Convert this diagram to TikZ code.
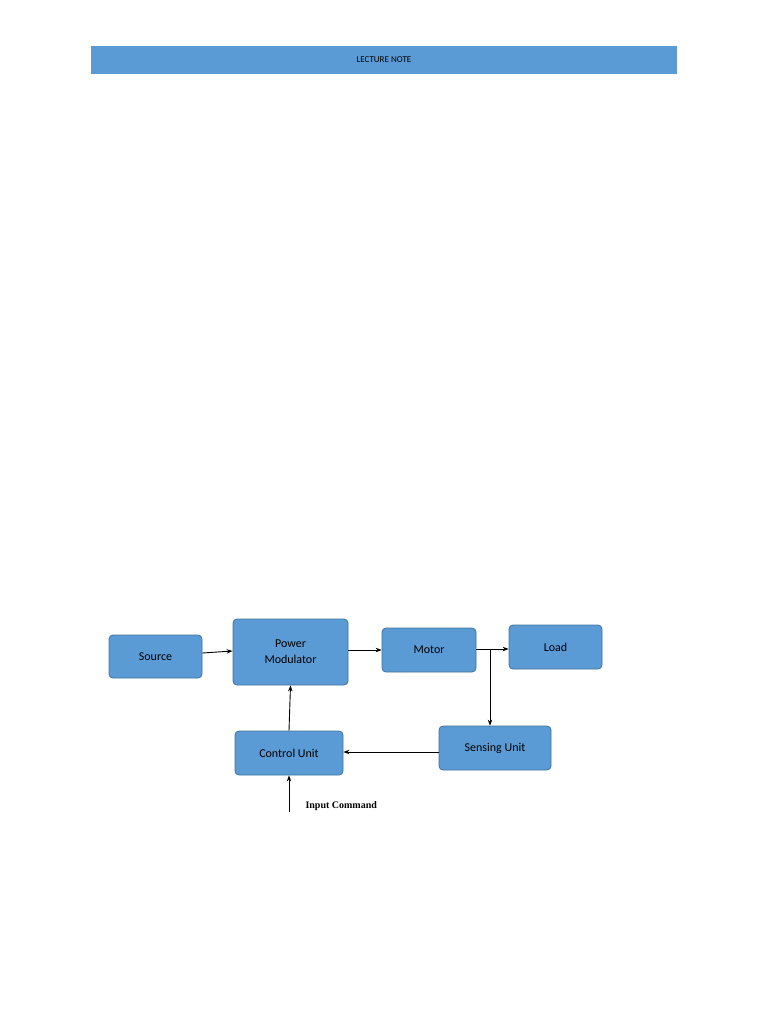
\documentclass[tikz,border=0pt]{standalone}
\usepackage{fontspec}
\setmainfont{Carlito}
\newfontfamily\tnr{Liberation Serif}
\usetikzlibrary{arrows.meta}
\definecolor{bl}{HTML}{5B9BD5}
\definecolor{bd}{HTML}{41719C}
\begin{document}
\begin{tikzpicture}[x=1pt,y=-1pt,
  blk/.style={draw=bd,fill=bl,rounded corners=4pt,line width=0.8pt,font=\fontsize{12}{14}\selectfont,align=center,inner sep=0pt},
  ar/.style={-{Stealth[length=6pt,width=4.5pt]},line width=0.9pt}]
\useasboundingbox (0,0) rectangle (768,1024);
\fill[bl] (91,46) rectangle (677,74);
\node[font=\fontsize{9}{10}\selectfont] (hdr) at (384,60) {LECTURE NOTE};
\node[blk,minimum width=93pt,minimum height=43pt] (src) at (155.5,656.5) {Source};
\node[blk,minimum width=115pt,minimum height=66pt] (pm) at (290.5,652) {Power\\[2pt]Modulator};
\node[blk,minimum width=94pt,minimum height=44pt] (mot) at (429,650) {Motor};
\node[blk,minimum width=93pt,minimum height=44pt] (load) at (555.5,647) {Load};
\node[blk,minimum width=108pt,minimum height=44pt] (cu) at (289,753) {Control Unit};
\node[blk,minimum width=112pt,minimum height=44pt] (su) at (495,748) {Sensing Unit};
\coordinate (br) at (490,649);
\coordinate (in) at (289,812);
\draw[ar] (src.east|-0,653) -- (pm.west|-0,651);
\draw[ar] (pm.east|-0,650) -- (mot.west|-0,650);
\draw[ar] (mot.east|-0,649) -- (load.west|-0,649);
\draw[ar] (br) -- (br|-su.north);
\draw[ar] (su.west|-0,752) -- (cu.east|-0,752);
\draw[ar] (cu.north) -- (pm.south);
\draw[ar] (in) -- (cu.south);
\node[font=\tnr\bfseries\fontsize{10}{12}\selectfont,anchor=west] (ic) at (302,806) {Input Command};
\end{tikzpicture}
\end{document}
